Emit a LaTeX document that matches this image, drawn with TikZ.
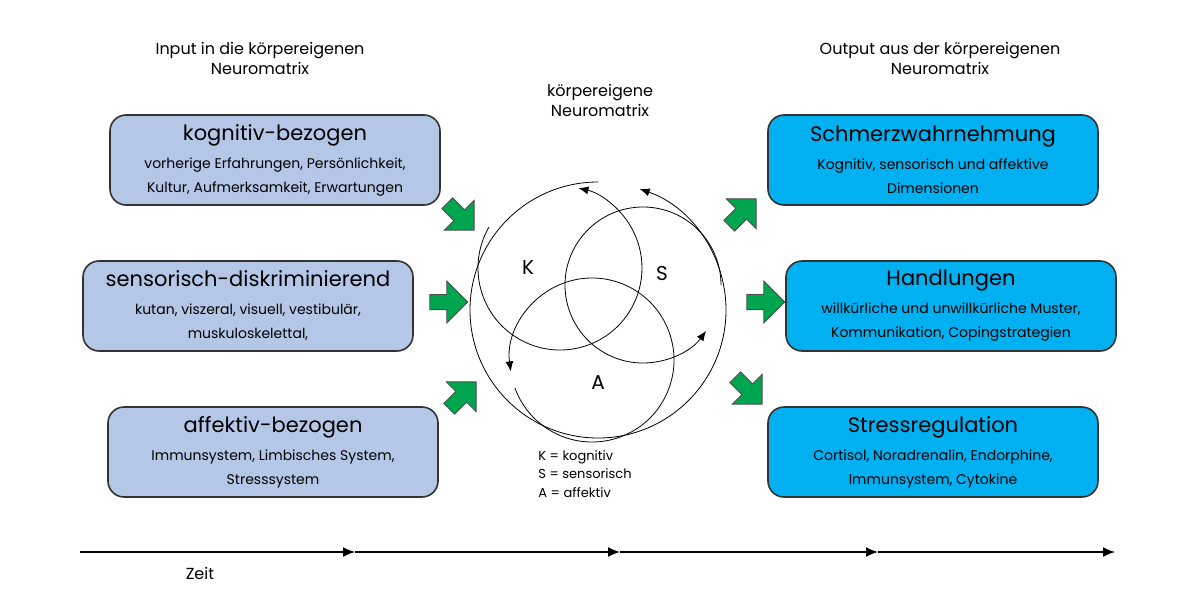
\documentclass[tikz,border=0pt]{standalone}
\usepackage{fontspec}
\setmainfont{Poppins}
\usetikzlibrary{shapes.arrows,arrows.meta,calc}

\definecolor{inblue}{HTML}{B4C7E7}
\definecolor{outblue}{HTML}{00B0F0}
\definecolor{pfeilgruen}{HTML}{00A64F}

\newcommand{\boxtitel}{\fontsize{10.5}{12}\selectfont}
\newcommand{\boxtext}{\fontsize{7}{9}\selectfont}

\tikzset{
  box/.style={draw=black!80, thick, rounded corners=8pt, minimum width=165pt, minimum height=45pt, align=center},
  inbox/.style={box, fill=inblue},
  outbox/.style={box, fill=outblue},
  pfeil/.style={single arrow, draw=black!70, fill=pfeilgruen, minimum height=19pt, minimum width=21pt, single arrow head extend=3pt, inner sep=1.5pt},
  ring/.style={thin, -{Latex[length=5pt,width=4pt]}},
  kopf/.style={align=center, font=\fontsize{8}{10}\selectfont}
}

\begin{document}
\begin{tikzpicture}[x=0.5pt,y=-0.5pt]
  \useasboundingbox (0,0) rectangle (1200,600);

  % Kopfzeilen
  \node[kopf] (inkopf)  at (260,58) {Input in die körpereigenen\\Neuromatrix};
  \node[kopf] (outkopf) at (940,58) {Output aus der körpereigenen\\Neuromatrix};
  \node[kopf] (mkopf)   at (600,100) {körpereigene\\Neuromatrix};

  % Eingaenge
  \node[inbox] (kog) at (275,160) {{\boxtitel kognitiv-bezogen}\\[2pt]
    \boxtext vorherige Erfahrungen, Persönlichkeit,\\ \boxtext Kultur, Aufmerksamkeit, Erwartungen};
  \node[inbox] (sen) at (248,306) {{\boxtitel sensorisch-diskriminierend}\\[2pt]
    \boxtext kutan, viszeral, visuell, vestibulär,\\ \boxtext muskuloskelettal,};
  \node[inbox] (aff) at (273,452) {{\boxtitel affektiv-bezogen}\\[2pt]
    \boxtext Immunsystem, Limbisches System,\\ \boxtext Stresssystem};

  % Ausgaenge
  \node[outbox] (schm) at (933,160) {{\boxtitel Schmerzwahrnehmung}\\[2pt]
    \boxtext Kognitiv, sensorisch und affektive\\ \boxtext Dimensionen};
  \node[outbox] (hand) at (951,306) {{\boxtitel Handlungen}\\[2pt]
    \boxtext willkürliche und unwillkürliche Muster,\\ \boxtext Kommunikation, Copingstrategien};
  \node[outbox] (stre) at (933,452) {{\boxtitel Stressregulation}\\[2pt]
    \boxtext Cortisol, Noradrenalin, Endorphine,\\ \boxtext Immunsystem, Cytokine};

  % gruene Pfeile
  \node[pfeil, rotate=-45] (p1) at (458,214) {};
  \node[pfeil]             (p2) at (445,302) {};
  \node[pfeil, rotate=45]  (p3) at (460,398) {};
  \node[pfeil, rotate=45]  (p4) at (740,215) {};
  \node[pfeil]             (p5) at (762,302) {};
  \node[pfeil, rotate=-45] (p6) at (746,388) {};

  % Neuromatrix
  \draw[ring] (598,182) arc[start angle=-90, end angle=-431, radius=128];
  \draw[ring] ($(560,268)+(-150:82)$) arc[start angle=-150, end angle=-437, radius=82];
  \draw[ring] ($(643,285)+(0:78)$) arc[start angle=0, end angle=-324, radius=78];
  \draw[ring] ($(592,360)+(-200:82)$) arc[start angle=-200, end angle=-548, radius=82];

  \node[font=\fontsize{10}{12}\selectfont] (k) at (528,268) {K};
  \node[font=\fontsize{10}{12}\selectfont] (s) at (662,274) {S};
  \node[font=\fontsize{10}{12}\selectfont] (a) at (598,383) {A};

  \node[align=left, anchor=north west, inner sep=0pt, font=\fontsize{6.5}{9.2}\selectfont] (leg) at (538,450)
    {K = kognitiv\\S = sensorisch\\A = affektiv};

  % Zeitachse
  \coordinate (z0) at (80,552);
  \coordinate (z1) at (355,552);
  \coordinate (z2) at (620,552);
  \coordinate (z3) at (878,552);
  \coordinate (z4) at (1115,552);
  \foreach \a/\b in {z0/z1,z1/z2,z2/z3,z3/z4}
    \draw[thick, -{Latex[length=6pt,width=5pt]}] (\a) -- (\b);
  \node[kopf] (zeit) at (200,573) {Zeit};
\end{tikzpicture}
\end{document}
